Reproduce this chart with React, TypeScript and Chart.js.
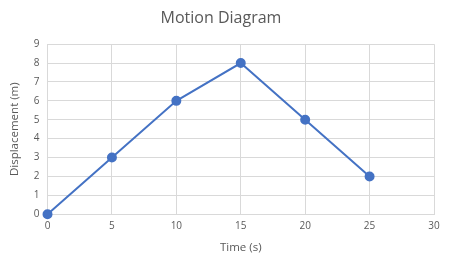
import React, { useEffect, useRef } from "react";
import { Chart, registerables } from "chart.js";

Chart.register(...registerables);

const timeValues = [0, 5, 10, 15, 20, 25];
const displacementValues = [0, 3, 6, 8, 5, 2];
const chartTitle = "Motion Diagram";
const xTitle = "Time (s)";
const yTitle = "Displacement (m)";

export default function App() {
  const ref = useRef<HTMLCanvasElement | null>(null);
  useEffect(() => {
    document.body.style.margin = "0";
    const ctx = ref.current!;
    const data = timeValues.map((t, i) => ({ x: t, y: displacementValues[i] }));
    const font = "'Open Sans', sans-serif";
    const chart = new Chart(ctx, {
      type: "scatter",
      data: {
        datasets: [
          {
            data,
            showLine: true,
            clip: false,
            borderColor: "#4472c4",
            backgroundColor: "#4472c4",
            borderWidth: 2,
            pointRadius: 4,
            pointHoverRadius: 4,
          },
        ],
      },
      options: {
        responsive: false,
        animation: false,
        layout: { padding: { left: 8, right: 16, top: 6, bottom: 4 } },
        plugins: {
          legend: { display: false },
          tooltip: { enabled: false },
          title: {
            display: true,
            text: chartTitle,
            color: "#595959",
            font: { family: font, size: 16, weight: "normal" },
            padding: { top: 3, bottom: 16 },
          },
        },
        scales: {
          x: {
            type: "linear",
            min: 0,
            max: 30,
            ticks: { stepSize: 5, color: "#595959", font: { family: font, size: 10 }, padding: 6 },
            grid: { color: "#d9d9d9", drawTicks: false },
            border: { color: "#d9d9d9" },
            title: { display: true, text: xTitle, color: "#595959", font: { family: font, size: 11.5 }, padding: { top: 3, bottom: 0 } },
          },
          y: {
            min: 0,
            max: 9,
            ticks: { stepSize: 1, color: "#595959", font: { family: font, size: 10 }, padding: 8 },
            grid: { color: "#d9d9d9", drawTicks: false },
            border: { color: "#d9d9d9" },
            title: { display: true, text: yTitle, color: "#595959", font: { family: font, size: 11.5 }, padding: { top: 0, bottom: 4 } },
          },
        },
      },
    });
    return () => chart.destroy();
  }, []);
  return (
    <div style={{ position: "absolute", left: 0, top: 0, width: 450, height: 259, background: "#fff" }}>
      <canvas ref={ref} width={450} height={259} />
    </div>
  );
}
